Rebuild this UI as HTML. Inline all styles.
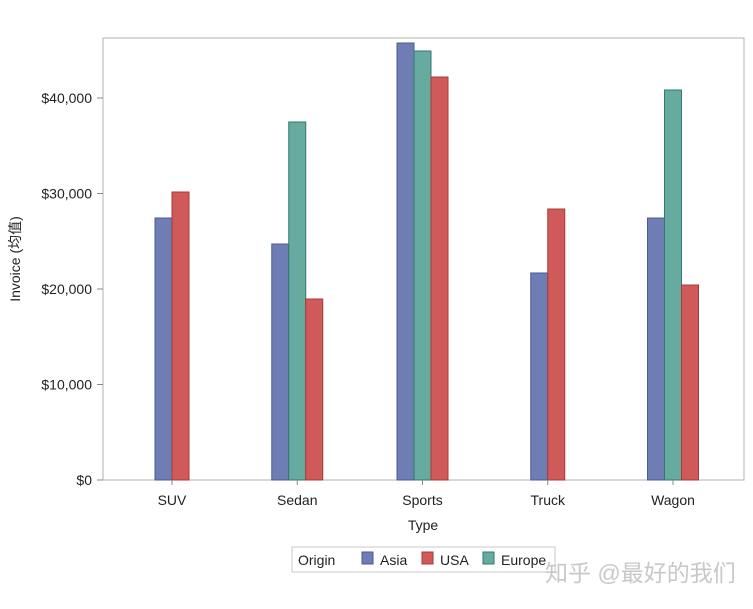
<!DOCTYPE html>
<html><head><meta charset="utf-8"><style>
body{margin:0;background:#fff;}
svg text{font-family:"Liberation Sans","Noto Sans CJK SC",sans-serif;}
</style></head><body>
<svg id="c" width="753" height="604" xmlns="http://www.w3.org/2000/svg">
<rect x="103" y="38" width="641" height="442" fill="#fff" stroke="#b0b0b0"/>
<g id="bars"></g><g id="axes"></g>
<text x="20" y="259" transform="rotate(-90 20 259)" text-anchor="middle" font-size="14" fill="#222">Invoice (均值)</text>
<text x="423" y="530" text-anchor="middle" font-size="14" fill="#222">Type</text>
<g>
<rect x="292" y="547" width="263" height="25" fill="#fff" stroke="#c8c8c8"/>
<text x="298" y="565" font-size="14" fill="#222">Origin</text>
<g><rect x="362" y="552" width="11" height="12" fill="#6f7db5" stroke="#4a5a95"/><text x="380" y="565" font-size="14" fill="#222">Asia</text></g>
<g><rect x="422" y="552" width="11" height="12" fill="#d05a5a" stroke="#a83a3a"/><text x="440" y="565" font-size="14" fill="#222">USA</text></g>
<g><rect x="483" y="552" width="11" height="12" fill="#66aaa0" stroke="#2f7a70"/><text x="501" y="565" font-size="14" fill="#222">Europe</text></g>
</g>
<text x="545" y="581" font-size="23" fill="#c8c8c8">知乎 @最好的我们</text>
</svg>
<script>
const categories=["SUV","Sedan","Sports","Truck","Wagon"];
const asia=[27435,24712,45759,21675,27435];
const europe=[null,37487,44921,null,40838];
const usa=[30157,18953,42199,28377,20419];
const yTicks=[0,10000,20000,30000,40000];
const NS="http://www.w3.org/2000/svg";
const yBase=480,pxPer=95.5/10000;
const y=v=>yBase-v*pxPer;
const cx=i=>172+125.25*i;
const bw=17;
const series=[{n:"asia",d:asia,f:"#6f7db5",s:"#4a5a95"},{n:"europe",d:europe,f:"#66aaa0",s:"#2f7a70"},{n:"usa",d:usa,f:"#d05a5a",s:"#a83a3a"}];
const bars=document.getElementById('bars'),axes=document.getElementById('axes');
categories.forEach((c,i)=>{
  const present=series.filter(s=>s.d[i]!=null);
  const start=cx(i)-present.length*bw/2;
  present.forEach((s,k)=>{
    const r=document.createElementNS(NS,'rect');
    r.setAttribute('x',start+k*bw);r.setAttribute('y',y(s.d[i]));
    r.setAttribute('width',bw);r.setAttribute('height',yBase-y(s.d[i]));
    r.setAttribute('fill',s.f);r.setAttribute('stroke',s.s);
    
    
    bars.appendChild(r);
  });
  const t=document.createElementNS(NS,'text');
  t.setAttribute('x',cx(i));t.setAttribute('y',505);t.setAttribute('text-anchor','middle');
  t.setAttribute('font-size','14');t.setAttribute('fill','#222');t.textContent=c;
  
  
  axes.appendChild(t);
  const l=document.createElementNS(NS,'line');
  l.setAttribute('x1',cx(i));l.setAttribute('x2',cx(i));l.setAttribute('y1',480);l.setAttribute('y2',485);l.setAttribute('stroke','#888');
  
  
  axes.appendChild(l);
});
yTicks.forEach(v=>{
  const t=document.createElementNS(NS,'text');
  t.setAttribute('x',92);t.setAttribute('y',y(v)+5);t.setAttribute('text-anchor','end');
  t.setAttribute('font-size','14');t.setAttribute('fill','#222');
  t.textContent='$'+v.toLocaleString('en-US');
  
  
  axes.appendChild(t);
  const l=document.createElementNS(NS,'line');
  l.setAttribute('x1',97);l.setAttribute('x2',103);l.setAttribute('y1',y(v));l.setAttribute('y2',y(v));l.setAttribute('stroke','#888');
  
  
  axes.appendChild(l);
});
</script>
</body></html>
